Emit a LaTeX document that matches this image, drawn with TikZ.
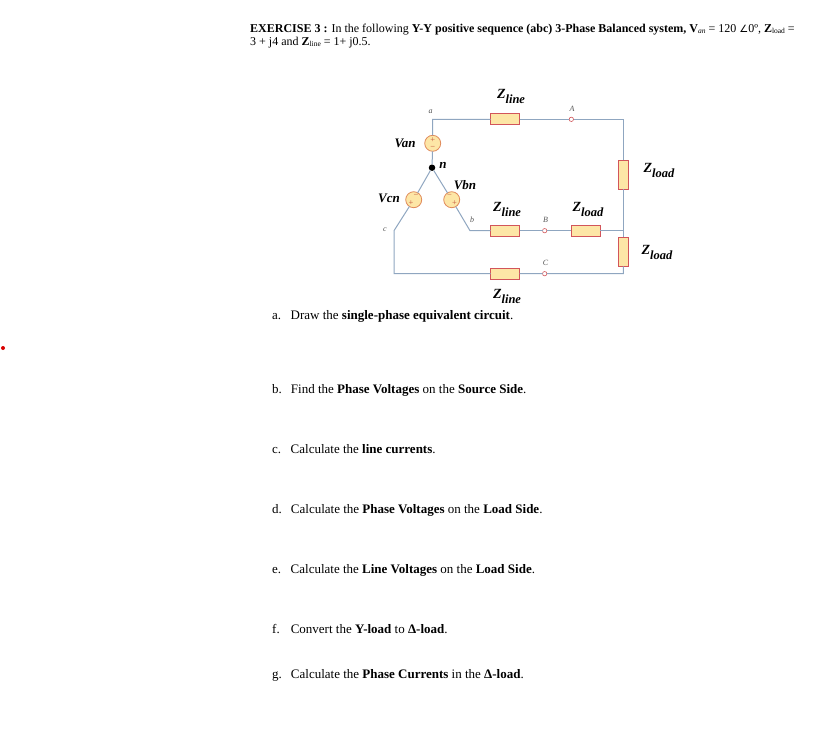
\documentclass[tikz,border=0pt]{standalone}
\usepackage{fontspec}
\setmainfont{Liberation Serif}
\newfontfamily\symfont{DejaVu Sans}
\definecolor{wirecol}{HTML}{8FA6C0}
\definecolor{rescol}{HTML}{D2555A}
\definecolor{resfill}{HTML}{FDE6A6}
\definecolor{srccol}{HTML}{E08A5A}
\definecolor{srcfill}{HTML}{FDE6A6}
\definecolor{tlabcol}{HTML}{555555}
\definecolor{signcol}{HTML}{C0503A}
\tikzset{
 x=1pt,y=-1pt,
 wire/.style={draw=wirecol,line width=1pt},
 res/.style={draw=rescol,fill=resfill,line width=0.9pt,minimum width=#1,inner sep=0pt,outer sep=0pt},
 hres/.style={res=29pt,minimum height=11pt},
 vres/.style={res=10.5pt,minimum height=29pt},
 src/.style={circle,draw=srccol,fill=srcfill,line width=0.8pt,minimum size=16pt,inner sep=0pt,outer sep=0pt},
 term/.style={circle,draw=rescol,fill=white,line width=0.6pt,minimum size=4.4pt,inner sep=0pt,outer sep=0pt},
 headtext/.style={anchor=base west,inner sep=0pt,font=\fontsize{12}{14}\selectfont},
 bodytext/.style={anchor=base west,inner sep=0pt,font=\fontsize{13}{15}\selectfont},
 zlab/.style={inner sep=0pt,font=\fontsize{14}{14}\selectfont\bfseries\itshape},
 vlab/.style={inner sep=0pt,font=\fontsize{13}{14}\selectfont\bfseries\itshape},
 tlab/.style={inner sep=0pt,text=tlabcol,font=\fontsize{8}{9}\selectfont\itshape},
 sgn/.style={inner sep=0pt,text=signcol,font=\fontsize{8.5}{8.5}\selectfont},
}
\newcommand{\Zsym}[1]{Z\raisebox{-5pt}{\fontsize{12.5}{13}\selectfont #1}}
\newcommand{\smallsub}[1]{\raisebox{-0.25ex}{\fontsize{7.5}{8}\selectfont\mdseries #1}}
\begin{document}
\begin{tikzpicture}
\useasboundingbox (0,0) rectangle (818,748);
% text
\node[headtext] (t1) at (250,32) {\textbf{EXERCISE 3 :} In the following \textbf{Y-Y positive sequence (abc) 3-Phase Balanced system, V}\smallsub{\itshape an} = 120 {\symfont\fontsize{10}{12}\selectfont ∠}0º, \textbf{Z}\smallsub{load} =};
\node[headtext] (t2) at (250,45) {3 + j4 and \textbf{Z}\smallsub{line} = 1+ j0.5.};
\node[bodytext] (qa) at (272,319) {a.\hspace{9.5pt}Draw the \textbf{single-phase equivalent circuit}.};
\node[bodytext] (qb) at (272,393) {b.\hspace{9pt}Find the \textbf{Phase Voltages} on the \textbf{Source Side}.};
\node[bodytext] (qc) at (272,453) {c.\hspace{9.5pt}Calculate the \textbf{line currents}.};
\node[bodytext] (qd) at (272,513) {d.\hspace{9pt}Calculate the \textbf{Phase Voltages} on the \textbf{Load Side}.};
\node[bodytext] (qe) at (272,573) {e.\hspace{9.5pt}Calculate the \textbf{Line Voltages} on the \textbf{Load Side}.};
\node[bodytext] (qf) at (272,633) {f.\hspace{11pt}Convert the \textbf{Y-load} to \textbf{Δ-load}.};
\node[bodytext] (qg) at (272,678) {g.\hspace{9pt}Calculate the \textbf{Phase Currents} in the \textbf{Δ-load}.};
\fill[red!85!black] (3,348) circle (2);
% junctions
\coordinate (ca) at (432.5,119.3);
\coordinate (cb) at (470,230.7);
\coordinate (cc) at (394,230.7);
\coordinate (cd) at (394,273.7);
\coordinate (tr) at (623.3,119.3);
\coordinate (mr) at (623.3,230.7);
\coordinate (br) at (623.3,273.7);
% components
\node[circle,fill=black,minimum size=6.5pt,inner sep=0pt] (n) at (432,167.7) {};
\node[src] (van) at (432.7,143.3) {};
\node[src] (vbn) at (451.7,199.7) {};
\node[src] (vcn) at (413.7,199.7) {};
\node[hres] (zl1) at (505,119.3) {};
\node[hres] (zl2) at (505,230.7) {};
\node[hres] (zl3) at (505,273.7) {};
\node[hres] (zb) at (585.8,230.7) {};
\node[vres] (za) at (623.3,174.8) {};
\node[vres] (zc) at (623.3,251.8) {};
\node[term] (A) at (571.3,119.3) {};
\node[term] (B) at (544.7,230.7) {};
\node[term] (C) at (544.7,273.7) {};
% wires
\draw[wire] (van) -- (ca) -- (zl1);
\draw[wire] (zl1) -- (A) -- (tr) -- (za);
\draw[wire] (za) -- (mr) -- (zc);
\draw[wire] (zc) -- (br) -- (C) -- (zl3) -- (cd) -- (cc) -- (vcn);
\draw[wire] (zl2) -- (B) -- (zb) -- (mr);
\draw[wire] (zl2) -- (cb) -- (vbn);
\draw[wire] (van) -- (n);
\draw[wire] (n) -- (vbn);
\draw[wire] (n) -- (vcn);
% signs
\node[sgn] (vp) at (432.7,139.6) {+};
\node[sgn] (vm) at (432.7,147.6) {−};
\node[sgn] (bm) at (449.5,195.8) {−};
\node[sgn] (bp) at (454.5,203.4) {+};
\node[sgn] (cm) at (416,195.8) {−};
\node[sgn] (cp) at (411,203.4) {+};
% labels
\node[zlab] (l1) at (511,96) {\Zsym{line}};
\node[zlab] (l2) at (507,209) {\Zsym{line}};
\node[zlab] (l3) at (507,296) {\Zsym{line}};
\node[zlab] (l4) at (659,170) {\Zsym{load}};
\node[zlab] (l5) at (588,209) {\Zsym{load}};
\node[zlab] (l6) at (657,252) {\Zsym{load}};
\node[vlab] (lv1) at (405,143) {Van};
\node[vlab] (lv2) at (465,185) {Vbn};
\node[vlab] (lv3) at (389,198) {Vcn};
\node[vlab] (ln) at (443,165) {n};
\node[tlab] (la) at (430.5,112) {a};
\node[tlab] (lb) at (472,220) {b};
\node[tlab] (lc) at (385,230) {c};
\node[tlab] (lA) at (572,108.5) {A};
\node[tlab] (lB) at (545.5,220) {B};
\node[tlab] (lC) at (545.5,263) {C};
\end{tikzpicture}
\end{document}
